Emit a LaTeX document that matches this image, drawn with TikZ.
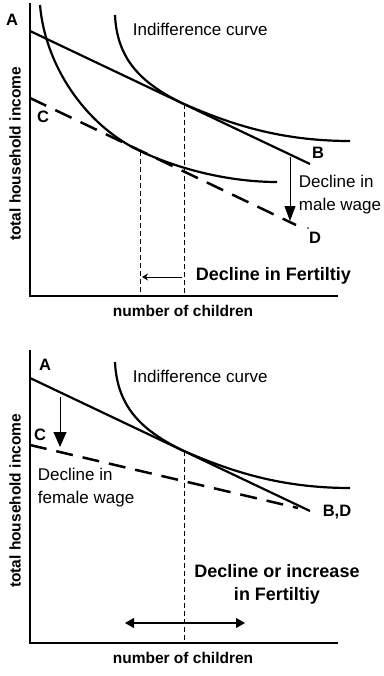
\documentclass[tikz,border=0pt]{standalone}
\usepackage{fontspec}
\setmainfont{Liberation Sans}
\usetikzlibrary{arrows.meta, positioning, calc}
\tikzset{
  every picture/.style={x=1pt, y=-1pt, line width=1.8pt},
  axis/.style={line width=2.7pt},
  budget/.style={line width=2.2pt},
  cut/.style={line width=2.5pt, dash pattern=on 18pt off 10pt},
  guide/.style={line width=0.8pt, dash pattern=on 5pt off 3pt},
  indiff/.style={line width=2.2pt},
  lbl/.style={font=\fontsize{16.5}{18}\selectfont\bfseries, inner sep=0pt},
  txt/.style={font=\fontsize{17}{23}\selectfont, align=left, inner sep=0pt},
  big/.style={font=\fontsize{18}{23}\selectfont\bfseries, align=center, inner sep=0pt},
  axlbl/.style={font=\fontsize{15.5}{17}\selectfont\bfseries, inner sep=0pt},
  drop/.style={-{Triangle[length=15pt, width=11pt]}, line width=0.9pt},
  move/.style={-{Stealth[length=6pt, width=7pt]}, line width=0.9pt},
  both/.style={{Triangle[length=9pt, width=10pt]}-{Triangle[length=9pt, width=10pt]}, line width=1.2pt},
}
\begin{document}
\begin{tikzpicture}
  \useasboundingbox (0,0) rectangle (383,676);
  % parts common to both panels
  \foreach \oy/\k in {0/t, 347/b} {
    \begin{scope}[yshift=-\oy pt]
      \coordinate (Y\k) at (30,3);
      \coordinate (O\k) at (30,296);
      \coordinate (X\k) at (338,296);
      \coordinate (A\k) at (30,31);
      \coordinate (B\k) at (310,164);
      \coordinate (T\k) at (184,104);
      \coordinate (uS\k) at (115,15);
      \coordinate (uE\k) at (350,141);
      \draw[axis] (Y\k) -- (O\k) -- (X\k);
      \draw[budget] (A\k) -- (B\k);
      \draw[indiff] (uS\k) .. controls (117,60) and (142,84) .. (T\k)
        .. controls (230,124) and (280,141) .. (uE\k);
      \node[txt, anchor=west] (ic\k) at (132,29) {Indifference curve};
      \node[axlbl] (xl\k) at (183,311) {number of children};
      \node[axlbl, rotate=90] (yl\k) at (15,154) {total household income};
    \end{scope}
  }

  % top panel: decline in male wage
  \coordinate (Ct) at (30,98);
  \coordinate (Dt) at (296,225);
  \coordinate (St) at (140,151);
  \coordinate (lS) at (40,5);
  \coordinate (lE) at (277,182);
  \draw[cut] (Ct) -- (Dt);
  \draw[indiff] (lS) .. controls (45,65) and (85,125) .. (St)
    .. controls (185,172) and (235,182) .. (lE);
  \draw[guide] (Tt) -- (Tt |- Ot);
  \draw[guide] (St) -- (St |- Ot);
  \node[lbl] (at) at (12,20) {A};
  \node[lbl] (ct) at (43,117) {C};
  \node[lbl] (bt) at (318,153) {B};
  \node[lbl] (dt) at (315,238) {D};
  \fill (308,228) circle (0.8pt);
  \coordinate (mw1) at (290,157);
  \coordinate (mw2) at (290,221);
  \draw[drop] (mw1) -- (mw2);
  \node[txt, anchor=west] (mwl) at (298,195) {Decline in\\male wage};
  \coordinate (f1) at (182,277);
  \coordinate (f2) at (142,277);
  \draw[move] (f1) -- (f2);
  \node[big, anchor=west] (fl) at (195,276) {Decline in Fertiltiy};

  % bottom panel: decline in female wage
  \coordinate (Cb) at (30,445);
  \coordinate (Db) at (298,508);
  \draw[cut, dash pattern=on 17pt off 10pt] (Cb) -- (Db);
  \draw[guide] (Tb) -- (Tb |- Ob);
  \node[lbl] (ab) at (45,365) {A};
  \node[lbl] (cb) at (40,435) {C};
  \node[lbl] (bdb) at (337,512) {B,D};
  \coordinate (fw1) at (60,397);
  \coordinate (fw2) at (60,447);
  \draw[drop, -{Triangle[length=15pt, width=13pt]}] (fw1) -- (fw2);
  \node[txt, anchor=west] (fwl) at (37,488) {Decline in\\female wage};
  \node[big] (ol) at (277,584) {Decline or increase\\in Fertiltiy};
  \coordinate (e1) at (125,623);
  \coordinate (e2) at (245,623);
  \draw[both] (e1) -- (e2);
\end{tikzpicture}
\end{document}
